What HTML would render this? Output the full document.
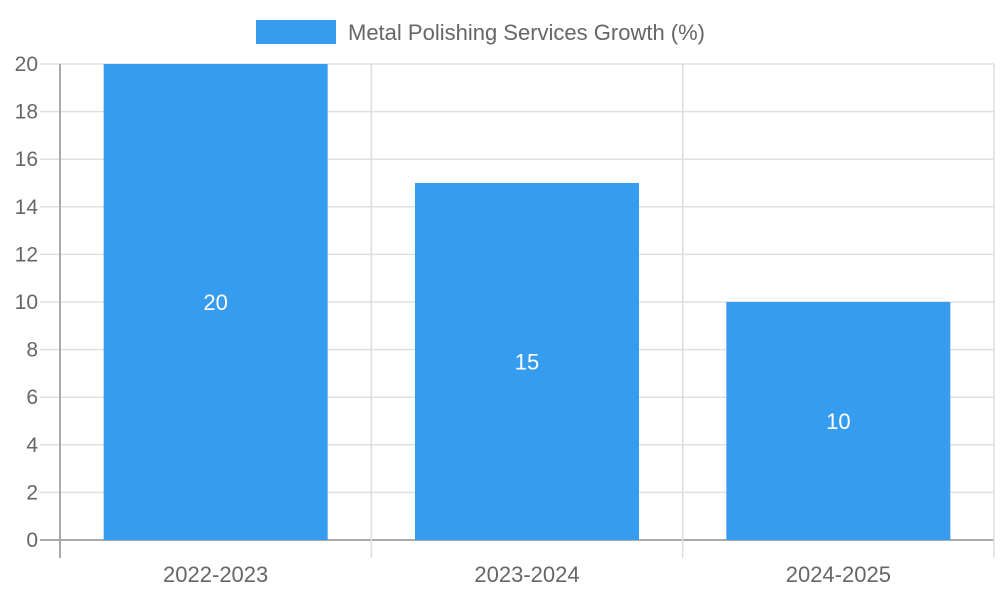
<!DOCTYPE html>
<html><head><meta charset="utf-8"><style>
body{margin:0;background:#fff;}
svg{display:block;font-family:"Liberation Sans",sans-serif;}
</style></head><body>
<svg id="chart" width="1000" height="600">
<g id="grid"></g>
<g id="bars"></g>
<g id="axes"></g>
<g>
<rect x="256" y="20" width="80" height="24" fill="#369CF0"/>
<text x="348" y="40" font-size="22" fill="#666">Metal Polishing Services Growth (%)</text>
</g>
</svg>
<script>
const categories=["2022-2023","2023-2024","2024-2025"];
const values=[20,15,10];
const yTicks=[0,2,4,6,8,10,12,14,16,18,20];
const NS="http://www.w3.org/2000/svg";
const L=60,R=994,T=64,B=540,yMax=20;
const y=v=>B-(v/yMax)*(B-T);
const cw=(R-L)/categories.length;
const x=i=>L+cw*i;
function mk(tag,attrs,parent,text){const e=document.createElementNS(NS,tag);for(const k in attrs)e.setAttribute(k,attrs[k]);if(text!==undefined)e.textContent=text;parent.appendChild(e);return e;}
const grid=document.getElementById('grid'),bars=document.getElementById('bars'),axes=document.getElementById('axes');
yTicks.forEach(t=>{
 const l=mk('line',{x1:40,x2:R,y1:y(t),y2:y(t),stroke:t===0?'#aaa':'#e0e0e0','stroke-width':t===0?2:1.5},grid);
 
 
 const tx=mk('text',{x:38,y:y(t)+7,'text-anchor':'end','font-size':21,fill:'#666'},axes,String(t));
 
 
});
for(let i=0;i<=categories.length;i++){
 const l=mk('line',{x1:x(i),x2:x(i),y1:T,y2:558,stroke:i===0?'#aaa':'#ddd','stroke-width':i===0?2:1.5},grid);
 
 
}
categories.forEach((c,i)=>{
 const cx=x(i)+cw/2,bw=224;
 const r=mk('rect',{x:cx-bw/2,y:y(values[i]),width:bw,height:B-y(values[i]),fill:'#369CF0'},bars);
 
 
 const v=mk('text',{x:cx,y:(y(values[i])+B)/2+8,'text-anchor':'middle','font-size':22,fill:'#fff'},bars,String(values[i]));
 
 
 const t=mk('text',{x:cx,y:582,'text-anchor':'middle','font-size':22,fill:'#666'},axes,c);
 
 
});
</script>
</body></html>
